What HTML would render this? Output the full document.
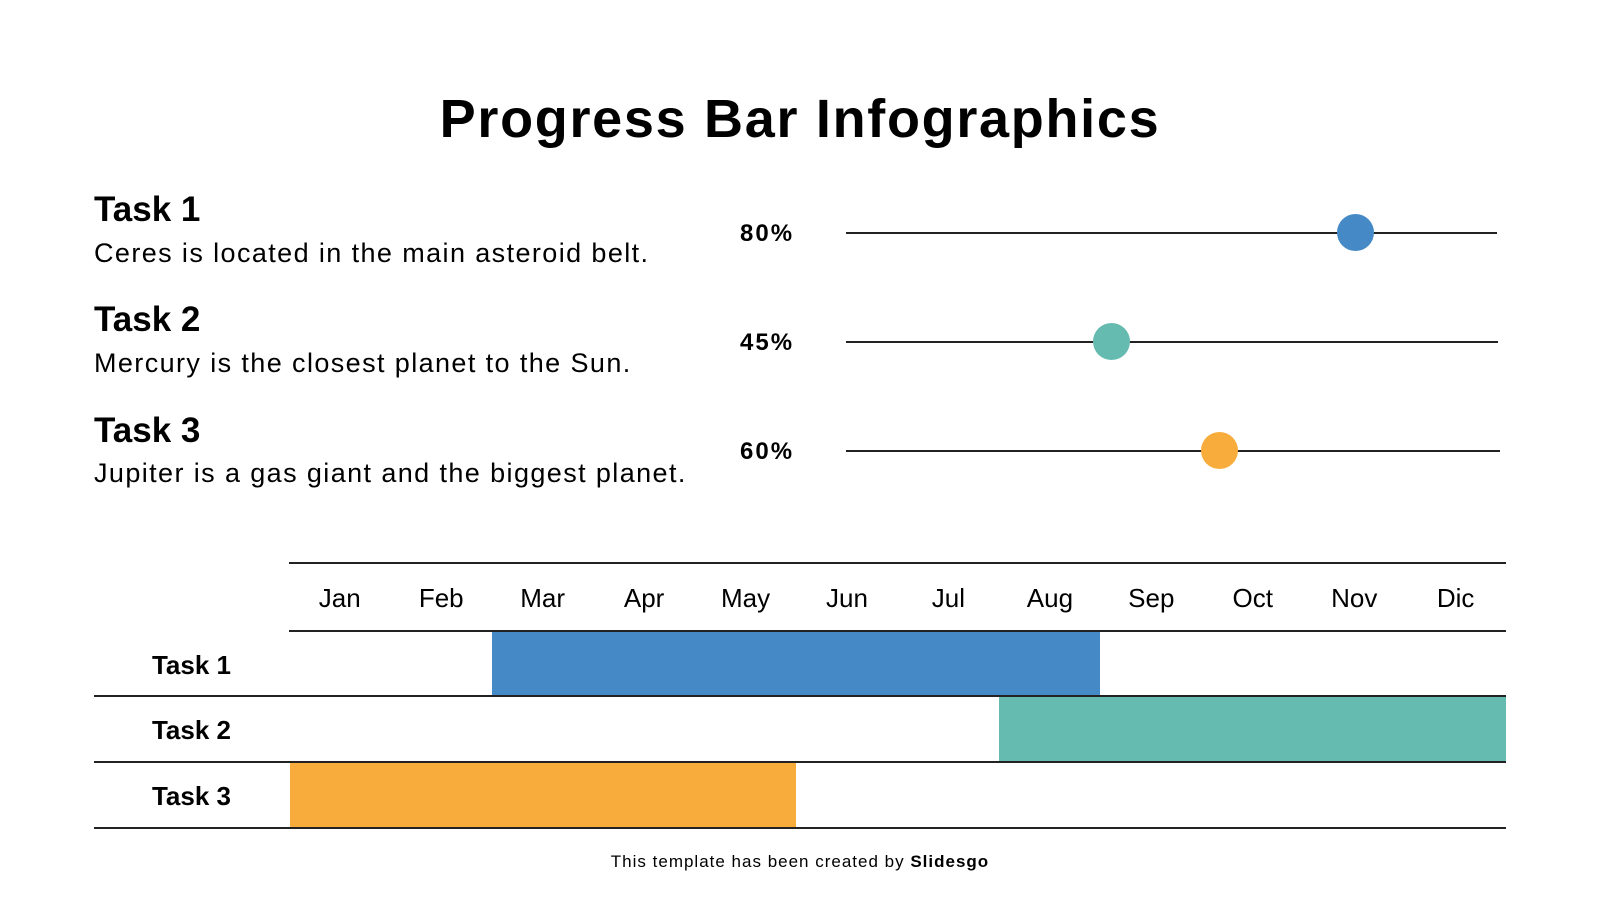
<!DOCTYPE html>
<html><head><meta charset="utf-8"><style>
body{margin:0;width:1600px;height:900px;background:#fff;font-family:"Liberation Sans",sans-serif;color:#000;position:relative;overflow:hidden}
.a{position:absolute;white-space:nowrap}
.h{font-weight:bold;font-size:35px;left:94px}
.d{font-size:27px;left:94px;letter-spacing:1.4px}
.p{font-weight:bold;font-size:24px;left:740px;letter-spacing:2px}
.ln{position:absolute;height:2px;background:#222}
.dot{position:absolute;width:37px;height:37px;border-radius:50%}
.m{position:absolute;top:583px;width:101.45px;text-align:center;font-size:26px}
.r{position:absolute;left:94px;width:195px;text-align:center;font-weight:bold;font-size:26px}
</style></head><body>
<div class="a" style="left:0;width:1600px;text-align:center;top:88px;font-size:54px;font-weight:bold;letter-spacing:1.7px">Progress Bar Infographics</div>
<div class="a h" style="top:190px">Task 1</div>
<div class="a d" style="top:238px">Ceres is located in the main asteroid belt.</div>
<div class="a h" style="top:300px">Task 2</div>
<div class="a d" style="top:348px">Mercury is the closest planet to the Sun.</div>
<div class="a h" style="top:411px">Task 3</div>
<div class="a d" style="top:458px">Jupiter is a gas giant and the biggest planet.</div>
<div class="a p" style="top:220px">80%</div>
<div class="a p" style="top:329px">45%</div>
<div class="a p" style="top:438px">60%</div>
<div class="ln" style="left:846px;width:651px;top:232px"></div>
<div class="ln" style="left:846px;width:652px;top:341px"></div>
<div class="ln" style="left:846px;width:654px;top:450px"></div>
<div class="dot" style="left:1337px;top:214px;background:#4589c6"></div>
<div class="dot" style="left:1093px;top:323px;background:#66bbb0"></div>
<div class="dot" style="left:1201px;top:432px;background:#f8ac3b"></div>
<div style="position:absolute;left:492px;width:608px;top:632px;height:64px;background:#4589c6"></div>
<div style="position:absolute;left:999px;width:507px;top:697px;height:65px;background:#66bbb0"></div>
<div style="position:absolute;left:290px;width:506px;top:763px;height:65px;background:#f8ac3b"></div>
<div class="ln" style="left:289px;width:1217px;top:562px"></div>
<div class="ln" style="left:289px;width:1217px;top:630px"></div>
<div class="ln" style="left:94px;width:1412px;top:695px"></div>
<div class="ln" style="left:94px;width:1412px;top:761px"></div>
<div class="ln" style="left:94px;width:1412px;top:827px"></div>
<div class="m" style="left:289px">Jan</div><div class="m" style="left:390.5px">Feb</div><div class="m" style="left:491.9px">Mar</div><div class="m" style="left:593.4px">Apr</div><div class="m" style="left:694.8px">May</div><div class="m" style="left:796.3px">Jun</div><div class="m" style="left:897.7px">Jul</div><div class="m" style="left:999.2px">Aug</div><div class="m" style="left:1100.6px">Sep</div><div class="m" style="left:1202px">Oct</div><div class="m" style="left:1303.5px">Nov</div><div class="m" style="left:1404.9px">Dic</div>
<div class="r" style="top:650px">Task 1</div>
<div class="r" style="top:715px">Task 2</div>
<div class="r" style="top:781px">Task 3</div>
<div class="a" style="left:0;width:1600px;text-align:center;top:852px;font-size:17px;letter-spacing:1px">This template has been created by <b>Slidesgo</b></div>
</body></html>
